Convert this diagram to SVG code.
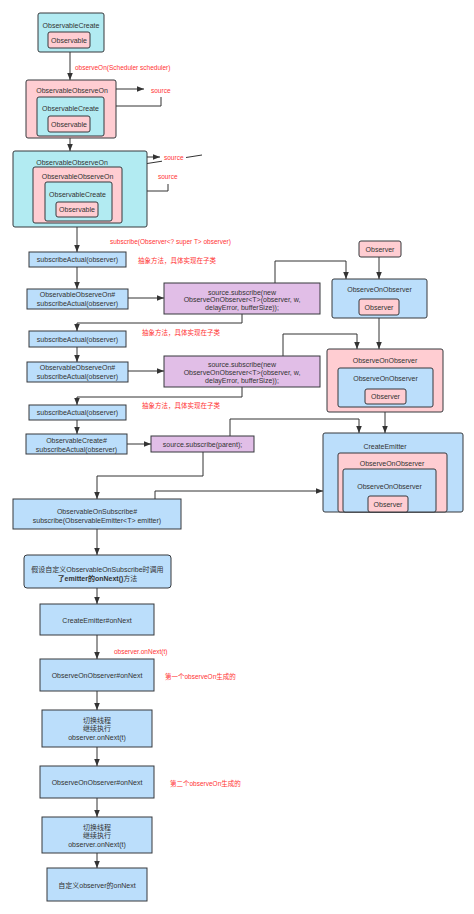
<svg xmlns="http://www.w3.org/2000/svg" width="474" height="914" viewBox="0 0 474 914">
<style>
.cy{fill:#b2ebf2;stroke:#36393d;stroke-width:1}
.pk{fill:#ffcdd2;stroke:#36393d;stroke-width:1}
.bl{fill:#bbdefb;stroke:#36393d;stroke-width:1}
.pu{fill:#e1bee7;stroke:#36393d;stroke-width:1}
text{font-family:"Liberation Sans","Noto Sans CJK SC",sans-serif;font-size:7px;fill:#333;text-anchor:middle}
text.r{fill:#ff3333;font-size:6.5px;text-anchor:start}
.e{fill:none;stroke:#333;stroke-width:1;marker-end:url(#a)}
</style>
<defs>
<marker id="a" viewBox="0 0 10 10" refX="10" refY="5" markerWidth="7" markerHeight="7" orient="auto" markerUnits="userSpaceOnUse"><path d="M0,1 L10,5 L0,9 Z" fill="#333"/></marker>
</defs>
<rect width="474" height="914" fill="#fff"/>
<g id="connectors">
<path class="e" d="M70,52 V80"/>
<path class="e" d="M116,89 H144"/>
<path class="e" d="M161,97 V106 H104"/>
<path class="e" d="M70,138 V151"/>
<path class="e" d="M128,154 H144 L146,157 H160"/>
<path class="e" d="M202,155 L186,157.5 M162,161.2 L118,168"/>
<path class="e" d="M122,175 H146"/>
<path class="e" d="M168,184 V191 H112"/>
<path class="e" d="M77,227 V252"/>
<path class="e" d="M77,267 V289"/>
<path class="e" d="M128,298 H164"/>
<path class="e" d="M242,314 V323 H77 V331"/>
<path class="e" d="M275,283 V261 H346 V279"/>
<path class="e" d="M379,257 V279"/>
<path class="e" d="M379,318 V349"/>
<path class="e" d="M77,347 V362"/>
<path class="e" d="M128,371 H164"/>
<path class="e" d="M283,356 V334 H357 V349"/>
<path class="e" d="M242,387 V397 H77 V405"/>
<path class="e" d="M77,420 V434"/>
<path class="e" d="M127,444 H151"/>
<path class="e" d="M230,436 V419 H359 V433"/>
<path class="e" d="M385,412 V433"/>
<path class="e" d="M203,452 V476 H97 V499"/>
<path class="e" d="M155,513 V491 H323"/>
<path class="e" d="M97,529 V555"/>
<path class="e" d="M97,588 V604"/>
<path class="e" d="M97,635 V659"/>
<path class="e" d="M97,691 V710"/>
<path class="e" d="M97,747 V766"/>
<path class="e" d="M97,798 V817"/>
<path class="e" d="M97,853 V868"/>
</g>
<g id="labels">
<text class="r" x="75" y="69.5">observeOn(Scheduler scheduler)</text>
<text class="r" x="151" y="92.5">source</text>
<text class="r" x="164" y="159.5">source</text>
<text class="r" x="158" y="179">source</text>
<text class="r" x="110" y="243.5">subscribe(Observer&lt;? super T&gt; observer)</text>
<text class="r" x="138" y="262.5">抽象方法，具体实现在子类</text>
<text class="r" x="142" y="334.5">抽象方法，具体实现在子类</text>
<text class="r" x="142" y="407.5">抽象方法，具体实现在子类</text>
<text class="r" x="114" y="653.5">observer.onNext(t)</text>
<text class="r" x="165" y="678.5">第一个observeOn生成的</text>
<text class="r" x="170" y="785.5">第二个observeOn生成的</text>
</g>
<g id="n1">
<rect class="cy" x="38" y="13" width="66" height="39" rx="2"/>
<text x="71" y="27.5">ObservableCreate</text>
<rect class="pk" x="48" y="32" width="42" height="16" rx="2"/>
<text x="69" y="42.5">Observable</text>
</g>
<g id="n2">
<rect class="pk" x="26" y="80" width="90" height="58" rx="2"/>
<text x="72" y="92.5">ObservableObserveOn</text>
<rect class="cy" x="37" y="97" width="67" height="39" rx="2"/>
<text x="70.5" y="110.5">ObservableCreate</text>
<rect class="pk" x="48" y="116" width="42" height="16" rx="2"/>
<text x="69" y="126.5">Observable</text>
</g>
<g id="n3">
<rect class="cy" x="13" y="151" width="134" height="76" rx="2"/>
<text x="72" y="164.5">ObservableObserveOn</text>
<rect class="pk" x="33" y="167" width="89" height="56" rx="2"/>
<text x="77.5" y="178.5">ObservableObserveOn</text>
<rect class="cy" x="45" y="182" width="67" height="39" rx="2"/>
<text x="77.5" y="196.5">ObservableCreate</text>
<rect class="pk" x="56" y="202" width="42" height="15" rx="2"/>
<text x="77" y="212">Observable</text>
</g>
<g id="n4">
<rect class="bl" x="29" y="252" width="97" height="15"/>
<text x="77.5" y="262">subscribeActual(observer)</text>
</g>
<g id="n5">
<rect class="bl" x="27" y="289" width="101" height="20"/>
<text x="77.5" y="296.5">ObservableObserveOn#</text>
<text x="77.5" y="305.5">subscribeActual(observer)</text>
</g>
<g id="n6">
<rect class="pu" x="164" y="283" width="156" height="31"/>
<text x="242" y="294.5">source.subscribe(new</text>
<text x="242" y="302">ObserveOnObserver&lt;T&gt;(observer, w,</text>
<text x="242" y="309.5">delayError, bufferSize));</text>
</g>
<g id="n7">
<rect class="pk" x="359" y="241" width="42" height="16" rx="2"/>
<text x="380" y="251.5">Observer</text>
</g>
<g id="n8">
<rect class="bl" x="332" y="279" width="95" height="39" rx="2"/>
<text x="379.5" y="291.5">ObserveOnObserver</text>
<rect class="pk" x="359" y="299" width="40" height="16" rx="2"/>
<text x="379" y="309.5">Observer</text>
</g>
<g id="n9">
<rect class="bl" x="29" y="331" width="97" height="16"/>
<text x="77.5" y="341.5">subscribeActual(observer)</text>
</g>
<g id="n10">
<rect class="bl" x="27" y="362" width="101" height="20"/>
<text x="77.5" y="369.5">ObservableObserveOn#</text>
<text x="77.5" y="378.5">subscribeActual(observer)</text>
</g>
<g id="n11">
<rect class="pu" x="164" y="356" width="156" height="31"/>
<text x="242" y="366.5">source.subscribe(new</text>
<text x="242" y="374.5">ObserveOnObserver&lt;T&gt;(observer, w,</text>
<text x="242" y="382.5">delayError, bufferSize));</text>
</g>
<g id="n12">
<rect class="pk" x="327" y="349" width="116" height="63" rx="2"/>
<text x="385" y="362.5">ObserveOnObserver</text>
<rect class="bl" x="338" y="368" width="95" height="39" rx="2"/>
<text x="385.5" y="380.5">ObserveOnObserver</text>
<rect class="pk" x="365" y="389" width="41" height="15" rx="2"/>
<text x="385.5" y="399">Observer</text>
</g>
<g id="n13">
<rect class="bl" x="29" y="405" width="97" height="15"/>
<text x="77.5" y="415">subscribeActual(observer)</text>
</g>
<g id="n14">
<rect class="bl" x="26" y="434" width="101" height="20"/>
<text x="76.5" y="442.5">ObservableCreate#</text>
<text x="76.5" y="451.5">subscribeActual(observer)</text>
</g>
<g id="n15">
<rect class="pu" x="151" y="436" width="103" height="16"/>
<text x="202.5" y="446.5">source.subscribe(parent);</text>
</g>
<g id="n16">
<rect class="bl" x="323" y="433" width="140" height="79" rx="2"/>
<text x="385" y="448.5">CreateEmitter</text>
<rect class="pk" x="338" y="453" width="109" height="59" rx="2"/>
<text x="392" y="465.5">ObserveOnObserver</text>
<rect class="bl" x="343" y="469" width="93" height="43" rx="2"/>
<text x="389.5" y="488.5">ObserveOnObserver</text>
<rect class="pk" x="368" y="496" width="40" height="16" rx="2"/>
<text x="388" y="506.5">Observer</text>
</g>
<g id="n17">
<rect class="bl" x="13" y="499" width="168" height="30"/>
<text x="97" y="514">ObservableOnSubscribe#</text>
<text x="97" y="522.5">subscribe(ObservableEmitter&lt;T&gt; emitter)</text>
</g>
<g id="n18">
<rect class="bl" x="24" y="555" width="147" height="33" rx="3"/>
<text x="97.5" y="571.5">假设自定义ObservableOnSubscribe时调用</text>
<text x="97.5" y="580.5"><tspan font-weight="bold">了emitter的onNext()</tspan>方法</text>
</g>
<g id="n19">
<rect class="bl" x="40" y="604" width="114" height="31"/>
<text x="97" y="622.5">CreateEmitter#onNext</text>
</g>
<g id="n20">
<rect class="bl" x="40" y="659" width="114" height="32"/>
<text x="97" y="678">ObserveOnObserver#onNext</text>
</g>
<g id="n21">
<rect class="bl" x="42" y="710" width="110" height="37"/>
<text x="97" y="722.5">切换线程</text>
<text x="97" y="730.5">继续执行</text>
<text x="97" y="739.5">observer.onNext(t)</text>
</g>
<g id="n22">
<rect class="bl" x="40" y="766" width="114" height="32"/>
<text x="97" y="785">ObserveOnObserver#onNext</text>
</g>
<g id="n23">
<rect class="bl" x="42" y="817" width="110" height="36"/>
<text x="97" y="829.5">切换线程</text>
<text x="97" y="838">继续执行</text>
<text x="97" y="846.5">observer.onNext(t)</text>
</g>
<g id="n24">
<rect class="bl" x="47" y="868" width="100" height="33"/>
<text x="97" y="887.5">自定义observer的onNext</text>
</g>
</svg>
